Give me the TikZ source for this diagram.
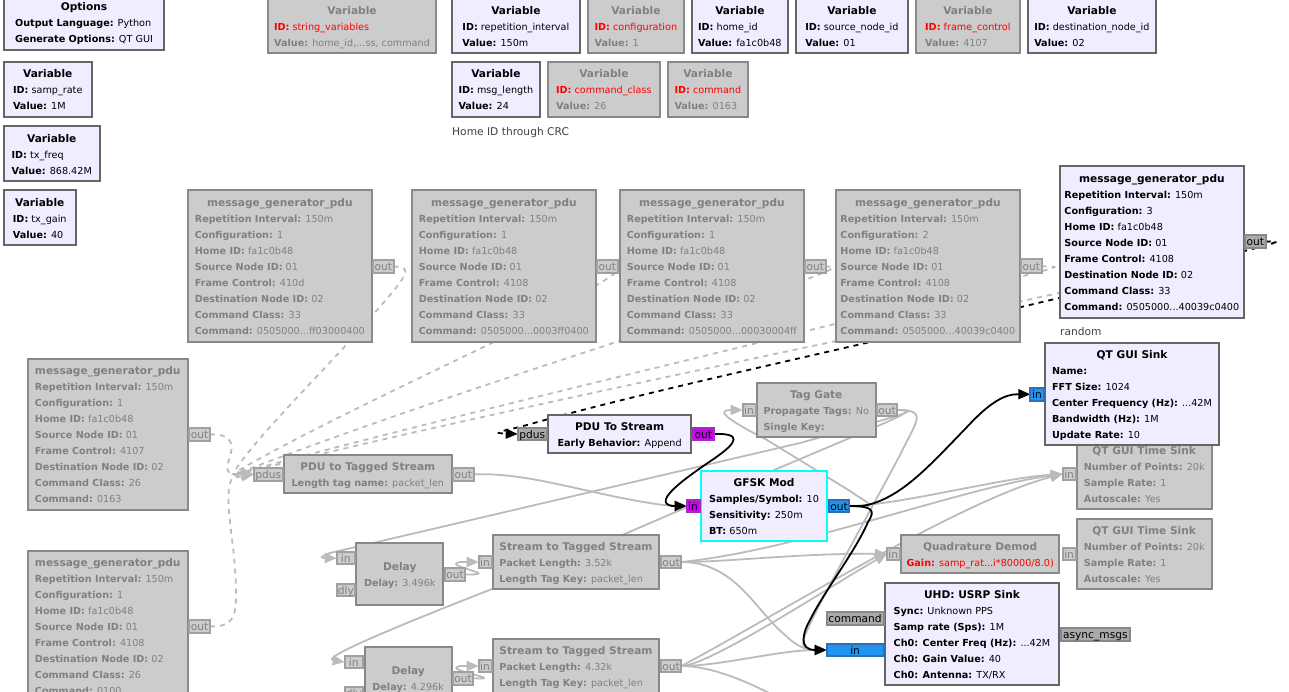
\documentclass[tikz,border=0pt]{standalone}
\usepackage{fontspec}
\setmainfont{DejaVu Sans}
\usetikzlibrary{arrows.meta,backgrounds}

\definecolor{blkfill}{HTML}{F1ECFF}
\definecolor{blkline}{HTML}{666666}
\definecolor{offfill}{HTML}{CCCCCC}
\definecolor{offline}{HTML}{888888}
\definecolor{offtext}{HTML}{808080}
\definecolor{wire}{HTML}{BBBBBB}
\definecolor{msgfill}{HTML}{AAAAAA}
\definecolor{msgline}{HTML}{888888}
\definecolor{bytefill}{HTML}{CC00EE}
\definecolor{byteline}{HTML}{9933BB}
\definecolor{cplxfill}{HTML}{2095F0}
\definecolor{cplxline}{HTML}{2F6FB5}
\definecolor{selline}{HTML}{00FFFF}
\definecolor{redtxt}{HTML}{FF0000}

\tikzset{
  block/.style={draw=blkline,fill=blkfill,line width=2pt,inner sep=0pt,outer sep=0pt,text=black,
    font=\fontsize{9.65}{16}\selectfont},
  off/.style={draw=offline,fill=offfill,text=offtext},
  sel/.style={draw=selline},
  port/.style={draw=msgline,fill=msgfill,line width=2pt,inner sep=0pt,outer sep=0pt,text=black,
    text height=10pt,text depth=2pt,font=\fontsize{10.67}{16}\selectfont},
  poff/.style={draw=offline!80!white,fill=offfill,text=offtext},
  pbyte/.style={draw=byteline,fill=bytefill},
  pcplx/.style={draw=cplxline,fill=cplxfill},
  note/.style={inner sep=0pt,anchor=west,text=black!75,font=\fontsize{10.67}{16}\selectfont},
  wireon/.style={draw=black,line width=1.8pt,-{Triangle[length=12pt,width=10pt]}},
  wireoff/.style={draw=wire,line width=1.8pt,-{Triangle[length=12pt,width=10pt]}},
  msgon/.style={wireon,dash pattern=on 5pt off 5pt},
  msgoff/.style={wireoff,dash pattern=on 5pt off 5pt},
}

% block: style, name, x1, y1, x2, y2, title, lines
\newcommand{\blk}[8][]{\node[block,#1,minimum width={#5-#3-2},minimum height={#6-#4-2}]
  (#2) at ({(#3+#5)/2},{(#4+#6)/2})
  {\vbox{\kern2pt\hbox{\begin{tabular}{@{}l@{}}\multicolumn{1}{@{}c@{}}{\fontsize{10.6}{16}\selectfont\bfseries #7}\\#8\end{tabular}}}};}
% port: style, name, x1, y1, x2, y2, text
\newcommand{\prt}[7][]{\node[port,#1,minimum width={#5-#3-2},minimum height={#6-#4-2}]
  (#2) at ({(#3+#5)/2},{(#4+#6)/2}) {#7};}
\newcommand{\kv}[2]{\textbf{#1:} #2}
\newcommand{\rkv}[2]{{\color{redtxt}\textbf{#1:} #2}}

\begin{document}
\begin{tikzpicture}[x=1pt,y=-1pt]
\useasboundingbox (0,0) rectangle (1289,692);
\clip (0,0) rectangle (1289,692);

% variables
\blk{opts}{3}{-7}{165}{51}{Options}{\kv{Output Language}{Python}\\\kv{Generate Options}{QT GUI}}
\blk{vrate}{3}{61}{92.5}{118.5}{Variable}{\kv{ID}{samp\_rate}\\\kv{Value}{1M}}
\blk{vfreq}{3}{125.5}{100.5}{182.5}{Variable}{\kv{ID}{tx\_freq}\\\kv{Value}{868.42M}}
\blk{vgain}{3}{189.5}{76.5}{246.5}{Variable}{\kv{ID}{tx\_gain}\\\kv{Value}{40}}
\blk[off]{vstr}{267}{-2.5}{437}{54.5}{Variable}{\rkv{ID}{string\_variables}\\\kv{Value}{home\_id,...ss, command}}
\blk{vrep}{451}{-2.5}{580.7}{54.5}{Variable}{\kv{ID}{repetition\_interval}\\\kv{Value}{150m}}
\blk[off]{vconf}{587}{-2.5}{684.7}{54.5}{Variable}{\rkv{ID}{configuration}\\\kv{Value}{1}}
\blk{vhome}{691}{-2.5}{788.7}{54.5}{Variable}{\kv{ID}{home\_id}\\\kv{Value}{fa1c0b48}}
\blk{vsrc}{795}{-2.5}{908.7}{54.5}{Variable}{\kv{ID}{source\_node\_id}\\\kv{Value}{01}}
\blk[off]{vfc}{915}{-2.5}{1020.7}{54.5}{Variable}{\rkv{ID}{frame\_control}\\\kv{Value}{4107}}
\blk{vdst}{1027}{-2.5}{1156.7}{54.5}{Variable}{\kv{ID}{destination\_node\_id}\\\kv{Value}{02}}
\blk{vlen}{451}{61}{540.7}{118.5}{Variable}{\kv{ID}{msg\_length}\\\kv{Value}{24}}
\blk[off]{vcc}{547}{61}{660.7}{118.5}{Variable}{\rkv{ID}{command\_class}\\\kv{Value}{26}}
\blk[off]{vcmd}{667}{61}{748.7}{118.5}{Variable}{\rkv{ID}{command}\\\kv{Value}{0163}}
\node[note] (homeid) at (452,132.5) {Home ID through CRC};
\node[note] (random) at (1060,332) {random};

% message generators
\newcommand{\gen}[9][off]{\blk[#1]{#2}{#3}{#4}{#5}{#6}{message\_generator\_pdu}{\kv{Repetition Interval}{150m}\\\kv{Configuration}{#7}\\\kv{Home ID}{fa1c0b48}\\\kv{Source Node ID}{01}\\#8\\\kv{Destination Node ID}{02}\\#9}}
\gen{ma}{187}{189.5}{372.7}{343}{1}{\kv{Frame Control}{410d}}{\kv{Command Class}{33}\\\kv{Command}{0505000...ff03000400}}
\gen{mb}{411}{189.5}{596.7}{343}{1}{\kv{Frame Control}{4108}}{\kv{Command Class}{33}\\\kv{Command}{0505000...0003ff0400}}
\gen{mc}{619}{189.5}{804.7}{343}{1}{\kv{Frame Control}{4108}}{\kv{Command Class}{33}\\\kv{Command}{0505000...00030004ff}}
\gen{md}{835}{189.5}{1020.7}{343}{2}{\kv{Frame Control}{4108}}{\kv{Command Class}{33}\\\kv{Command}{0505000...40039c0400}}
\gen[]{me}{1059}{165.5}{1244.7}{318.7}{3}{\kv{Frame Control}{4108}}{\kv{Command Class}{33}\\\kv{Command}{0505000...40039c0400}}
\gen{mf}{27}{357.5}{188.5}{510.7}{1}{\kv{Frame Control}{4107}}{\kv{Command Class}{26}\\\kv{Command}{0163}}
\gen{mg}{27}{549.5}{188.5}{702.7}{1}{\kv{Frame Control}{4108}}{\kv{Command Class}{26}\\\kv{Command}{0100}}
\prt[poff]{ao}{372}{259}{394.5}{274}{out}
\prt[poff]{bo}{596}{259}{618.5}{274}{out}
\prt[poff]{co}{804}{259}{826.5}{274}{out}
\prt[poff]{do}{1020}{258.5}{1042.7}{274}{out}
\prt{eo}{1244}{234}{1266.7}{249.3}{out}
\prt[poff]{fo}{188}{427}{211}{441.7}{out}
\prt[poff]{go}{188}{619}{211}{633.7}{out}

% flow blocks
\blk[off]{ptag}{283}{453.7}{452.7}{494.3}{PDU to Tagged Stream}{\kv{Length tag name}{packet\_len}}
\prt[poff]{ptagi}{252.7}{467}{284}{481.7}{pdus}
\prt[poff]{ptago}{452}{467}{474.7}{481.7}{out}
\blk{pstr}{547}{413.7}{692.3}{454.3}{PDU To Stream}{\kv{Early Behavior}{Append}}
\prt{pstri}{516.7}{426.7}{548}{441.3}{pdus}
\prt[pbyte]{pstro}{692}{426.7}{714.7}{441.3}{out}
\blk[off]{gate}{755.7}{381.7}{876.7}{438.3}{Tag Gate}{\kv{Propagate Tags}{No}\\\textbf{Single Key:}}
\prt[poff]{gatei}{741.7}{402.7}{756.5}{417.3}{in}
\prt[poff]{gateo}{876}{402.7}{898.3}{417.3}{out}
\blk[sel]{gfsk}{699.7}{470}{828.3}{542}{GFSK Mod}{\kv{Samples/Symbol}{10}\\\kv{Sensitivity}{250m}\\\kv{BT}{650m}}
\prt[pbyte]{gfski}{685.7}{498.7}{700.5}{513.3}{in}
\prt[pcplx]{gfsko}{828}{498.7}{850.3}{513.3}{out}
\blk[off]{tsa}{1075.7}{437.7}{1212.7}{510.3}{QT GUI Time Sink}{\kv{Number of Points}{20k}\\\kv{Sample Rate}{1}\\\kv{Autoscale}{Yes}}
\prt[poff]{tsai}{1061.7}{466.7}{1076.5}{481.3}{in}
\blk[off]{tsb}{1075.7}{517.7}{1212.7}{590.3}{QT GUI Time Sink}{\kv{Number of Points}{20k}\\\kv{Sample Rate}{1}\\\kv{Autoscale}{Yes}}
\prt[poff]{tsbi}{1061.7}{546.7}{1076.5}{561.3}{in}
\blk{qt}{1043.7}{342}{1220.3}{446.3}{QT GUI Sink}{\textbf{Name:}\\\kv{FFT Size}{1024}\\\kv{Center Frequency (Hz)}{...42M}\\\kv{Bandwidth (Hz)}{1M}\\\kv{Update Rate}{10}}
\prt[pcplx]{qti}{1029.3}{387}{1044.5}{401.7}{in}
\blk[off]{quad}{900}{534}{1060.3}{574}{Quadrature Demod}{\rkv{Gain}{samp\_rat...i*80000/8.0)}}
\prt[poff]{quadi}{886}{546.7}{900.5}{561.3}{in}
\blk{uhd}{883.7}{581.7}{1060.3}{686}{UHD: USRP Sink}{\kv{Sync}{Unknown PPS}\\\kv{Samp rate (Sps)}{1M}\\\kv{Ch0: Center Freq (Hz)}{...42M}\\\kv{Ch0: Gain Value}{40}\\\kv{Ch0: Antenna}{TX/RX}}
\prt{uhdc}{825.7}{610.7}{884.5}{625.7}{command}
\prt[pcplx]{uhdi}{825.7}{642.7}{884.5}{657.3}{in}
\prt{uhda}{1060}{626.7}{1130.7}{641.7}{async\_msgs}
\blk[off]{dla}{355.3}{541.7}{444.3}{606}{Delay}{\kv{Delay}{3.496k}}
\prt[poff]{dlai}{335.7}{551}{356}{565.3}{in}
\prt[poff]{dlad}{335.7}{582.7}{356}{597.3}{dly}
\prt[poff]{dlao}{444}{567.3}{466.3}{581.7}{out}
\blk[off]{dlb}{363.7}{645.7}{452.7}{710}{Delay}{\kv{Delay}{4.296k}}
\prt[poff]{dlbi}{343.7}{655}{364}{669.3}{in}
\prt[poff]{dlbd}{343.7}{686}{364}{700.7}{dly}
\prt[poff]{dlbo}{452}{671}{474.3}{685.5}{out}
\blk[off]{ssa}{491.7}{533.7}{660.3}{590.3}{Stream to Tagged Stream}{\kv{Packet Length}{3.52k}\\\kv{Length Tag Key}{packet\_len}}
\prt[poff]{ssai}{477.7}{554.7}{492.5}{569.3}{in}
\prt[poff]{ssao}{660}{554.7}{682.3}{569.3}{out}
\blk[off]{ssb}{491.7}{637.7}{660.3}{694.3}{Stream to Tagged Stream}{\kv{Packet Length}{4.32k}\\\kv{Length Tag Key}{packet\_len}}
\prt[poff]{ssbi}{477.7}{658.7}{492.5}{673.3}{in}
\prt[poff]{ssbo}{660}{658.7}{682.3}{673.3}{out}
\coordinate (offpage) at (790,704);

\begin{scope}[on background layer]
\clip (0,0) rectangle (1289,692);
% message connections
\draw[msgoff] (fo.east) .. controls (228,434) and (236,440) .. (229,460) .. controls (224,472) and (230,476) .. (ptagi.west);
\draw[msgoff] (go.east) .. controls (232,627) and (236,618) .. (236,595) .. controls (236,540) and (222,500) .. (232,478) -- (ptagi.west);
\draw[msgoff] (ao.east) .. controls (418,267) and (405,278) .. (348,343) .. controls (300,395) and (250,445) .. (233,474) -- (ptagi.west);
\draw[msgoff] (bo.east) .. controls (628,267) and (610,280) .. (492,343) .. controls (390,392) and (290,440) .. (236,472) -- (ptagi.west);
\draw[msgoff] (co.east) .. controls (840,267) and (835,268) .. (800,282) .. controls (640,335) and (400,410) .. (236,474) -- (ptagi.west);
\draw[msgoff] (do.east) .. controls (1062,267) and (1060,266) .. (1020,277) .. controls (800,335) and (450,415) .. (236,474) -- (ptagi.west);
\draw[msgoff] (eo.east) .. controls (1292,242) and (1280,242) .. (1059,293) .. controls (800,350) and (450,420) .. (236,475) -- (ptagi.west);
\draw[msgon] (eo.east) .. controls (1292,240) and (1280,242) .. (1059,298) .. controls (850,348) and (650,390) .. (527,425) .. controls (505,431) and (488,433) .. (pstri.west);
% stream connections, disabled
\draw[wireoff] (ptago.east) .. controls (530,472) and (590,495) .. (663,505) -- (gfski.west);
\draw[wireoff] (gateo.east) .. controls (925,410) and (900,415) .. (800,443) .. controls (650,478) and (450,525) .. (330,553) .. controls (318,557) and (322,558) .. (dlai.west);
\draw[wireoff] (gateo.east) .. controls (925,410) and (900,415) .. (627,533) -- (492,589) .. controls (400,625) and (320,658) .. (dlbi.west);
\draw[wireoff] (gateo.east) .. controls (928,410) and (917,420) .. (900,455) .. controls (860,530) and (812,615) .. (804,638) .. controls (800,650) and (810,650) .. (uhdi.west);
\draw[wireoff] (gfsko.east) .. controls (882,508) and (870,505) .. (850,491) -- (767,440) .. controls (720,416) and (718,410) .. (gatei.west);
\draw[wireoff] (gfsko.east) .. controls (900,505) and (1000,478) .. (tsai.west);
\draw[wireoff] (ssao.east) .. controls (800,550) and (960,488) .. (tsai.west);
\draw[wireoff] (ssao.east) .. controls (730,562) and (800,553) .. (quadi.west);
\draw[wireoff] (ssao.east) .. controls (735,562) and (755,610) .. (785,635) .. controls (795,645) and (805,650) .. (uhdi.west);
\draw[wireoff] (ssbo.east) .. controls (710,666) and (840,580) .. (quadi.west);
\draw[wireoff] (ssbo.east) .. controls (760,625) and (960,500) .. (tsai.west);
\draw[wireoff] (ssbo.east) .. controls (720,666) and (780,650) .. (uhdi.west);
\draw[wireoff] (ssbo.east) .. controls (710,666) and (745,680) .. (offpage);
\draw[wireoff] (dlao.east) .. controls (505,575) and (440,566) .. (460,562) -- (ssai.west);
\draw[wireoff] (dlbo.east) .. controls (510,680) and (440,670) .. (460,666) -- (ssbi.west);
% stream connections, enabled
\draw[wireon] (pstro.east) .. controls (742,433) and (738,442) .. (715,458) .. controls (690,475) and (650,502) .. (672,506) -- (gfski.west);
\draw[wireon] (gfsko.east) -- (862,506) .. controls (900,500) and (930,465) .. (967,427) .. controls (990,402) and (1005,394) .. (qti.west);
\draw[wireon] (gfsko.east) .. controls (872,506) and (876,510) .. (868,522) .. controls (855,552) and (825,590) .. (810,620) .. controls (803,632) and (798,650) .. (uhdi.west);
\end{scope}
\end{tikzpicture}
\end{document}
